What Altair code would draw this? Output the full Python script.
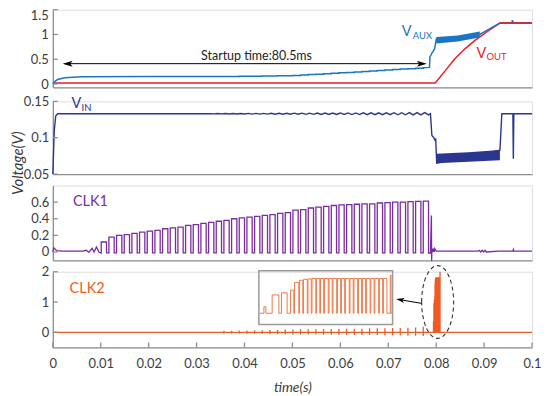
import altair as alt
import pandas as pd

# ===================== DATA =====================
x_ticks = [0, 0.01, 0.02, 0.03, 0.04, 0.05, 0.06, 0.07, 0.08, 0.09, 0.1]
p1_ticks = [0, 0.5, 1, 1.5]
p1_tick_labels = ["0", "0.5", "1", "1.5"]
p2_ticks = [0.05, 0.1, 0.15]
p3_ticks = [0, 0.2, 0.4, 0.6]
p4_ticks = [0, 1, 2]

# CLK1 rising-edge times (s), pulse heights (V), high time (s), low level (V)
clk1_rise_t = [0.0101, 0.0117, 0.0133, 0.0149, 0.0165, 0.0181, 0.0197, 0.0213, 0.0229, 0.0245,
               0.0261, 0.0277, 0.0293, 0.0309, 0.0325, 0.0341, 0.0357, 0.0373, 0.0389, 0.0405,
               0.0421, 0.0437, 0.0453, 0.0469, 0.0485, 0.0501, 0.0517, 0.0533, 0.0549, 0.0565,
               0.0581, 0.0597, 0.0613, 0.0629, 0.0645, 0.0661, 0.0677, 0.0693, 0.0709, 0.0725,
               0.0741, 0.0757, 0.0773]
clk1_amp = [0.12, 0.18, 0.20, 0.21, 0.225, 0.24, 0.25, 0.26, 0.28, 0.29,
            0.30, 0.32, 0.33, 0.345, 0.357, 0.37, 0.38, 0.40, 0.41, 0.42,
            0.43, 0.44, 0.45, 0.465, 0.475, 0.505, 0.51, 0.53, 0.54, 0.55,
            0.56, 0.567, 0.57, 0.575, 0.58, 0.58, 0.59, 0.594, 0.60, 0.60,
            0.606, 0.61, 0.613]
clk1_high = 0.0011
clk1_low = -0.012
clk1_pre_t = [0.0, 0.0002, 0.0008, 0.0020, 0.0062, 0.0070, 0.0075, 0.0082, 0.0086, 0.0091, 0.0096]
clk1_pre_v = [0.0, 0.05, 0.015, 0.01, 0.01, 0.02, -0.005, 0.045, 0.0, 0.06, 0.0]
clk1_post_t = [0.0788, 0.0790, 0.07905, 0.0791, 0.0792, 0.0793, 0.0794, 0.0795, 0.0796, 0.0797,
               0.0800, 0.0888, 0.0890, 0.0893, 0.0896, 0.0899, 0.0902, 0.0905, 0.0930, 0.0960,
               0.0961, 0.0962, 0.1000]
clk1_post_v = [-0.01, 0.44, -0.11, 0.04, 0.0, 0.04, 0.0, 0.04, 0.0, 0.04,
               0.01, 0.01, 0.02, 0.0, 0.02, 0.0, 0.02, 0.0, 0.01, 0.01,
               0.03, 0.01, 0.01]

# V_AUX (V)
vaux_start_t = [0.0, 0.0005, 0.0010, 0.0025, 0.0060, 0.0200, 0.0340]
vaux_start_v = [0.0, 0.06, 0.09, 0.125, 0.145, 0.150, 0.150]
vaux_step_v = [0.150, 0.152, 0.154, 0.156, 0.158, 0.160, 0.162, 0.165, 0.168, 0.172,
               0.180, 0.189, 0.198, 0.207, 0.216, 0.225, 0.234, 0.243, 0.252, 0.262,
               0.271, 0.281, 0.290, 0.300, 0.309, 0.319, 0.328]   # at CLK1 edges 16..42
vaux_jump_t = [0.0786, 0.0787, 0.0790, 0.0792, 0.0794, 0.0797, 0.0800]
vaux_jump_v = [0.335, 0.55, 0.60, 0.64, 0.66, 0.72, 0.90]
vaux_band_t = [0.0800, 0.0845, 0.0891]
vaux_band_lo = [0.82, 0.86, 0.94]
vaux_band_hi = [0.95, 0.98, 1.06]
vaux_end_t = [0.0891, 0.0912, 0.0933, 0.0958, 0.0959, 0.0961, 0.1000]
vaux_end_v = [1.00, 1.12, 1.23, 1.23, 1.29, 1.23, 1.23]

# V_OUT (V)
vout_t = [0.0, 0.0798, 0.0819, 0.0839, 0.0860, 0.0881, 0.0907, 0.0933, 0.1000]
vout_v = [0.02, 0.02, 0.27, 0.51, 0.71, 0.88, 1.06, 1.23, 1.23]

# V_IN (V)
vin_pre_t = [0.0, 0.0003, 0.0006, 0.0010, 0.0320]
vin_pre_v = [0.05, 0.11, 0.130, 0.133, 0.133]
vin_ripple = [0.0004, 0.0005, 0.0006, 0.0007, 0.0008, 0.0009, 0.0010, 0.0011, 0.0012, 0.0013,
              0.0014, 0.0015, 0.0016, 0.0017, 0.0018, 0.0019, 0.0020, 0.0021, 0.0022, 0.0023,
              0.0024, 0.0025, 0.0026, 0.0027, 0.0028, 0.0029, 0.0030, 0.0030, 0.0030]  # edges 14..42
vin_level = 0.133
vin_post_t = [0.0788, 0.0791, 0.0795, 0.0797, 0.0799, 0.0801, 0.0933, 0.0937, 0.0960, 0.0961,
              0.0962, 0.1000]
vin_post_v = [0.133, 0.103, 0.100, 0.097, 0.098, 0.065, 0.083, 0.133, 0.133, 0.071,
              0.133, 0.133]
vin_band_t = [0.0801, 0.0867, 0.0933]
vin_band_lo = [0.065, 0.067, 0.069]
vin_band_hi = [0.078, 0.080, 0.083]

# CLK2 (V): small spikes on CLK1 edges 16..42, then the burst around 80 ms
clk2_spike_hi = [0.05, 0.05, 0.06, 0.06, 0.07, 0.07, 0.08, 0.08, 0.09, 0.09,
                 0.10, 0.10, 0.10, 0.11, 0.11, 0.11, 0.12, 0.12, 0.12, 0.13,
                 0.13, 0.13, 0.14, 0.14, 0.15, 0.16, 0.18]
clk2_spike_lo = [0.04, 0.04, 0.04, 0.05, 0.05, 0.05, 0.06, 0.06, 0.06, 0.07,
                 0.07, 0.07, 0.07, 0.08, 0.08, 0.08, 0.08, 0.09, 0.09, 0.09,
                 0.09, 0.10, 0.10, 0.10, 0.11, 0.11, 0.12]
# burst detail (inset), time in ms
burst_t = [79.39, 79.434, 79.434, 79.455, 79.455, 79.523, 79.523, 79.595, 79.595, 79.624,
           79.624, 79.684, 79.684, 79.721, 79.721]
burst_v = [0, 0, 0.34, 0.34, 0, 0, 0.95, 0.95, 0, 0,
           1.06, 1.06, 0, 0, 1.20]
burst_dip_t = [79.756, 79.810, 79.853, 79.901, 79.944, 79.993, 80.036, 80.078, 80.127, 80.170,
               80.218, 80.261, 80.304, 80.353, 80.396, 80.444, 80.487, 80.530, 80.578, 80.621,
               80.670, 80.713]
burst_dip_lvl = [1.59, 1.71, 1.76, 1.78, 1.80, 1.80, 1.80, 1.80, 1.80, 1.80,
                 1.80, 1.80, 1.80, 1.80, 1.80, 1.80, 1.80, 1.80, 1.80, 1.80,
                 1.80, 1.80]
burst_dip_w = 0.008
burst_tail_t = [80.759, 80.759, 80.795, 80.795, 80.803, 80.803, 80.815]
burst_tail_v = [1.80, 0, 0, 1.98, 1.98, 0, 0]

# ===================== STYLE =====================
FONT = "Lato"
AX = "#8f8f8f"
LBL = "#3c3c3c"
C_AUX = "#1b75c5"
C_OUT = "#ec1c24"
C_IN = "#2b378f"
C_CLK1 = "#7b2c9f"
C_CLK2 = "#ef5a24"
W = 481
H1, H2, H3, H4 = 78, 73, 75, 76
FMT = ".2~f"

xs = alt.Scale(domain=[0, 0.1], nice=False, zero=False)


def df_line(pts):
    return pd.DataFrame({"t": [p[0] for p in pts], "v": [p[1] for p in pts], "i": list(range(len(pts)))})


# ---- build line tables ----
pts = list(zip(clk1_pre_t, clk1_pre_v))
for t0, a in zip(clk1_rise_t, clk1_amp):
    pts += [(t0, clk1_low), (t0, a), (t0 + clk1_high, a), (t0 + clk1_high, clk1_low)]
pts += list(zip(clk1_post_t, clk1_post_v))
clk1_df = df_line(pts)

pts = list(zip(vaux_start_t, vaux_start_v))
prev = vaux_start_v[-1]
for t0, lv in zip(clk1_rise_t[16:], vaux_step_v):
    pts += [(t0, prev), (t0, lv)]
    prev = lv
pts += list(zip(vaux_jump_t, vaux_jump_v)) + list(zip(vaux_end_t, vaux_end_v))
vaux_df = df_line(pts)
vaux_band_df = pd.DataFrame({"t": vaux_band_t, "v": vaux_band_lo, "v2": vaux_band_hi})
vout_df = df_line(list(zip(vout_t, vout_v)))

pts = list(zip(vin_pre_t, vin_pre_v))
for t0, a in zip(clk1_rise_t[14:], vin_ripple):
    pts += [(t0 + 0.0003, vin_level + a / 2), (t0 + 0.0011, vin_level - a / 2)]
pts += list(zip(vin_post_t, vin_post_v))
vin_df = df_line(pts)
vin_band_df = pd.DataFrame({"t": vin_band_t, "v": vin_band_lo, "v2": vin_band_hi})

bpts = list(zip(burst_t, burst_v))
prev = burst_v[-1]
for d, lv in zip(burst_dip_t, burst_dip_lvl):
    bpts += [(d, prev), (d, 0), (d + burst_dip_w, 0), (d + burst_dip_w, lv)]
    prev = lv
bpts += list(zip(burst_tail_t, burst_tail_v))

pts = [(0.0, 0.0)]
for t0, a, b in zip(clk1_rise_t[16:], clk2_spike_hi, clk2_spike_lo):
    pts += [(t0, 0.0), (t0, a), (t0, -b), (t0, 0.0)]
pts += [(0.0792, 0.0)] + [(t / 1000.0, v) for t, v in bpts] + [(0.0809, 0.0), (0.1, 0.0)]
clk2_df = df_line(pts)

# inset box (panel-4 data coordinates) and inset trace mapped into it
IB = dict(t=0.0430, t2=0.0709, v=0.26, v2=2.03)
IN_T = (79.38, 80.82)
IN_V = (-0.58, 2.20)
inset_df = df_line([
    (IB["t"] + (t - IN_T[0]) / (IN_T[1] - IN_T[0]) * (IB["t2"] - IB["t"]),
     IB["v"] + (v - IN_V[0]) / (IN_V[1] - IN_V[0]) * (IB["v2"] - IB["v"]))
    for t, v in bpts])


# ===================== CHART =====================
def yaxis(vals, labels=True):
    return alt.Axis(values=vals, format=FMT, ticks=False, grid=False, domainColor=AX, domainWidth=1.3,
                    labels=labels, labelColor=LBL, labelFont=FONT, labelFontSize=13, labelPadding=4,
                    labelFlush=False, labelOverlap=False, title=None)


def xaxis_plain():
    return alt.Axis(labels=False, ticks=False, grid=False, domainColor=AX, domainWidth=1.3, title=None)


xaxis_bottom = alt.Axis(values=x_ticks, format=FMT, ticks=False, grid=False, domainColor=AX, domainWidth=1.3,
                        labelColor=LBL, labelFont=FONT, labelFontSize=13, labelPadding=10, labelFlush=False,
                        labelOverlap=False, title="time(s)", titleFont=FONT, titleFontSize=14,
                        titleFontStyle="italic", titleFontWeight="normal", titleColor=LBL, titlePadding=10)


def enc(ydom, yvals, xaxis, labels=True):
    X = alt.X("t:Q", scale=xs, axis=xaxis)
    Y = alt.Y("v:Q", scale=alt.Scale(domain=ydom, nice=False, zero=False), axis=yaxis(yvals, labels))
    return X, Y


def line(df, color, X, Y, width=1.3):
    return alt.Chart(df).mark_line(color=color, strokeWidth=width, interpolate="linear").encode(
        x=X, y=Y, order="i:Q")


def band(df, color, X, Y):
    return alt.Chart(df).mark_area(color=color, opacity=1).encode(x=X, y=Y, y2="v2:Q")


def text(t, v, s, color, size, X, Y, align="left", baseline="middle"):
    return alt.Chart(pd.DataFrame({"t": [t], "v": [v], "s": [s]})).mark_text(
        align=align, baseline=baseline, font=FONT, fontSize=size, color=color).encode(x=X, y=Y, text="s:N")


def ytick_rules(vals, Y):
    return alt.Chart(pd.DataFrame({"v": vals})).mark_rule(color=AX, strokeWidth=1.3).encode(
        y=Y, x=alt.value(0), x2=alt.value(5))


# ---- panel 1 ----
D1 = [-0.07, 1.5]
X1, Y1 = enc(D1, p1_ticks, xaxis_plain(), labels=False)
arrow_left = "M -1 0 L 1 -0.6 L 0.5 0 L 1 0.6 Z"
arrow_right = "M 1 0 L -1 -0.6 L -0.5 0 L -1 0.6 Z"
p1_lab = pd.DataFrame({"v": p1_ticks, "s": p1_tick_labels})
p1 = alt.layer(
    line(vout_df, C_OUT, X1, Y1, 1.5),
    band(vaux_band_df, C_AUX, X1, Y1),
    line(vaux_df, C_AUX, X1, Y1, 1.5),
    line(vout_df[vout_df.t >= 0.0930], C_OUT, X1, Y1, 1.5),
    alt.Chart(pd.DataFrame({"t": [0.0025], "t2": [0.0775], "v": [0.41]})).mark_rule(
        color="black", strokeWidth=1).encode(x=X1, x2="t2:Q", y=Y1),
    alt.Chart(pd.DataFrame({"t": [0.0031], "v": [0.41]})).mark_point(
        shape=arrow_left, filled=True, size=100, color="black", opacity=1).encode(x=X1, y=Y1),
    alt.Chart(pd.DataFrame({"t": [0.0770], "v": [0.41]})).mark_point(
        shape=arrow_right, filled=True, size=100, color="black", opacity=1).encode(x=X1, y=Y1),
    text(0.0425, 0.555, "Startup time:80.5ms", "#222222", 12.5, X1, Y1, align="center"),
    text(0.0728, 1.044, "V", C_AUX, 14.5, X1, Y1),
    text(0.0751, 0.976, "AUX", C_AUX, 9.5, X1, Y1),
    text(0.0884, 0.61, "V", C_OUT, 14.5, X1, Y1),
    text(0.0905, 0.545, "OUT", C_OUT, 9.5, X1, Y1),
    ytick_rules(p1_ticks, Y1),
    # tick labels of the top panel (top one nudged down so it stays on the page)
    alt.Chart(p1_lab[p1_lab.v < 1.4]).mark_text(
        align="right", baseline="middle", font=FONT, fontSize=13, color=LBL, dy=1).encode(
        y=Y1, x=alt.value(-4), text="s:N"),
    alt.Chart(p1_lab[p1_lab.v > 1.4]).mark_text(
        align="right", baseline="middle", font=FONT, fontSize=13, color=LBL, dy=6.5).encode(
        y=Y1, x=alt.value(-4), text="s:N"),
).properties(width=W, height=H1)

# ---- panel 2 ----
D2 = [0.05, 0.15]
X2, Y2 = enc(D2, p2_ticks, xaxis_plain())
p2 = alt.layer(
    band(vin_band_df, C_IN, X2, Y2),
    line(vin_df, C_IN, X2, Y2, 1.4),
    text(0.0039, 0.1459, "V", C_IN, 14.5, X2, Y2),
    text(0.0060, 0.1412, "IN", C_IN, 9.5, X2, Y2),
    ytick_rules(p2_ticks, Y2),
    alt.Chart(pd.DataFrame({"s": ["Voltage(V)"]})).mark_text(
        angle=270, align="center", baseline="middle", font=FONT, fontSize=15, fontStyle="italic",
        color=LBL).encode(x=alt.value(-35), y=alt.value(62), text="s:N"),
).properties(width=W, height=H2)

# ---- panel 3 ----
D3 = [-0.1, 0.8]
X3, Y3 = enc(D3, p3_ticks, xaxis_plain())
p3 = alt.layer(
    line(clk1_df, C_CLK1, X3, Y3, 1.3),
    text(0.0042, 0.596, "CLK1", C_CLK1, 14.5, X3, Y3),
    ytick_rules(p3_ticks, Y3),
).properties(width=W, height=H3)

# ---- panel 4 ----
D4 = [-0.5, 2]
X4, Y4 = enc(D4, p4_ticks, xaxis_bottom)
ellipse = "M -0.44 0 A 0.44 1 0 1 1 0.44 0 A 0.44 1 0 1 1 -0.44 0 Z"
p4 = alt.layer(
    line(clk2_df, C_CLK2, X4, Y4, 1.3),
    alt.Chart(pd.DataFrame([IB])).mark_rect(fillOpacity=0, stroke="#9a9a9a", strokeWidth=1.5).encode(
        x=X4, x2="t2:Q", y=Y4, y2="v2:Q"),
    line(inset_df, "#f07a4a", X4, Y4, 1.0),
    alt.Chart(pd.DataFrame({"t": [0.0803], "v": [1.0]})).mark_point(
        shape=ellipse, filled=False, size=5329, color="#333333", strokeWidth=1.1,
        strokeDash=[4, 3], opacity=1).encode(x=X4, y=Y4),
    alt.Chart(pd.DataFrame({"t": [0.0769], "t2": [0.0727], "v": [0.957], "v2": [1.07]})).mark_rule(
        color="black", strokeWidth=1).encode(x=X4, x2="t2:Q", y=Y4, y2="v2:Q"),
    alt.Chart(pd.DataFrame({"t": [0.0725], "v": [1.075]})).mark_point(
        shape=arrow_left, filled=True, size=70, angle=10, color="black", opacity=1).encode(x=X4, y=Y4),
    text(0.0035, 1.44, "CLK2", C_CLK2, 14.5, X4, Y4),
    ytick_rules(p4_ticks, Y4),
    alt.Chart(pd.DataFrame({"t": x_ticks})).mark_rule(color=AX, strokeWidth=1.3).encode(
        x=X4, y=alt.value(H4), y2=alt.value(H4 - 5)),
).properties(width=W, height=H4)

inner = alt.vconcat(p2, p3, p4, spacing=11.5, bounds="flush")
chart = alt.vconcat(p1, inner, spacing=14, bounds="flush").properties(
    padding={"left": 2, "top": -1, "right": 0, "bottom": 0}
).configure_view(stroke=None).configure(background="white")

chart.save("out.html", embed_options={"renderer": "svg", "actions": False})
